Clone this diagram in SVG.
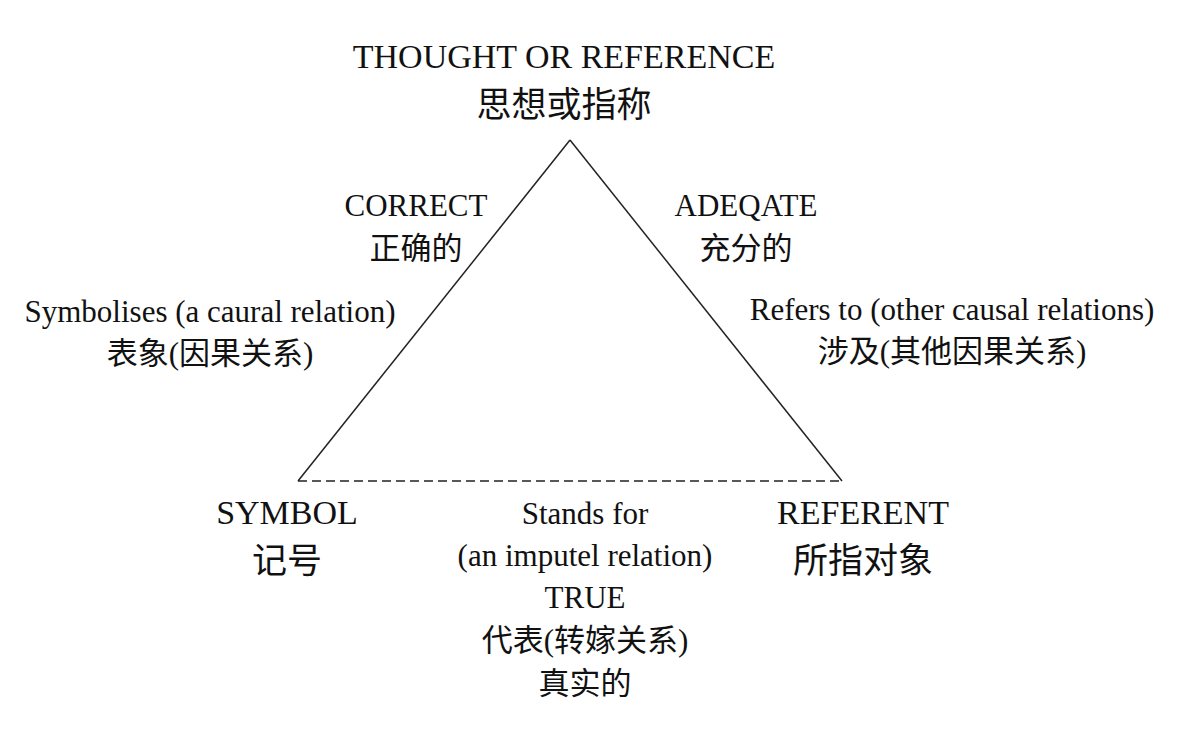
<svg xmlns="http://www.w3.org/2000/svg" width="1184" height="738" viewBox="0 0 1184 738">
<style>
text{font-family:"Liberation Serif","Noto Sans CJK SC",serif;fill:#111;text-anchor:middle}
.s{font-size:31px}.m{font-size:34px}.c{font-size:31px}.cl{font-size:35px}
.e{stroke:#222;stroke-width:1.5;fill:none}
</style>
<rect width="1184" height="738" fill="#fff"/>
<g id="connectors">
<line class="e" x1="570" y1="140" x2="298" y2="481"/>
<line class="e" x1="570" y1="140" x2="842" y2="481"/>
<line class="e" x1="298" y1="481" x2="842" y2="481" stroke-dasharray="9,5"/>
<text class="s" x="416" y="216">CORRECT</text>
<text class="c" x="416" y="259">正确的</text>
<text class="s" x="746" y="216">ADEQATE</text>
<text class="c" x="746" y="259">充分的</text>
<text class="s" x="210" y="322">Symbolises (a caural relation)</text>
<text class="c" x="210" y="364">表象(因果关系)</text>
<text class="s" x="952" y="320">Refers to (other causal relations)</text>
<text class="c" x="952" y="362">涉及(其他因果关系)</text>
<text class="s" x="585" y="524">Stands for</text>
<text class="s" x="585" y="566">(an imputel relation)</text>
<text class="s" x="585" y="608">TRUE</text>
<text class="c" x="585" y="651">代表(转嫁关系)</text>
<text class="c" x="585" y="694">真实的</text>
</g>
<g id="thought">
<text class="m" x="564" y="68">THOUGHT OR REFERENCE</text>
<text class="cl" x="564" y="117">思想或指称</text>
</g>
<g id="symbol">
<text class="m" x="287" y="524">SYMBOL</text>
<text class="cl" x="287" y="573">记号</text>
</g>
<g id="referent">
<text class="m" x="863" y="524">REFERENT</text>
<text class="cl" x="863" y="573">所指对象</text>
</g>
</svg>
